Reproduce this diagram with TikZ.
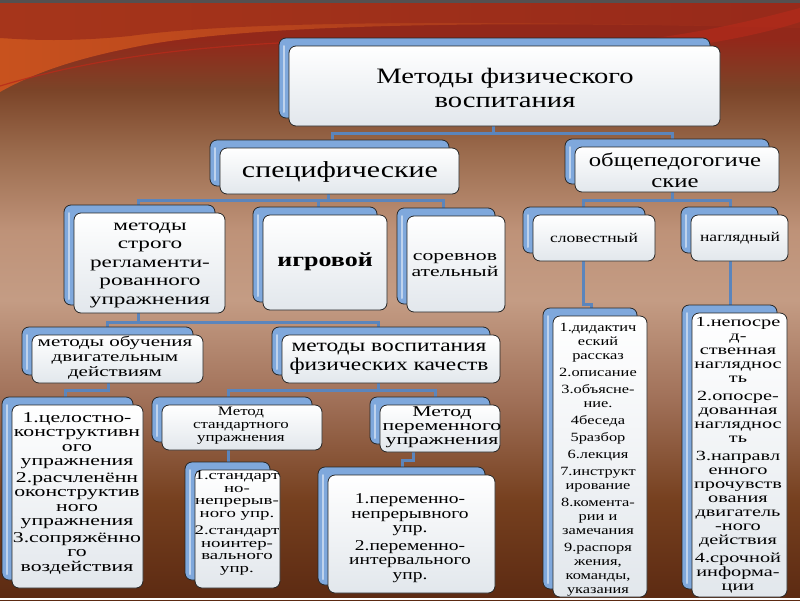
\documentclass[tikz,border=0pt]{standalone}
\usepackage{fontspec}
\setmainfont{Liberation Serif}
\newfontfamily\fs[FakeStretch=1.3]{Liberation Serif}
\newfontfamily\fw[FakeStretch=1.45]{Liberation Serif}
\usetikzlibrary{calc}
\definecolor{bgA}{HTML}{92281A}
\definecolor{bgB}{HTML}{7B4428}
\definecolor{bgC}{HTML}{9A6A4C}
\definecolor{bgD}{HTML}{BE9278}
\definecolor{bgE}{HTML}{C49C84}
\definecolor{bgF}{HTML}{A07058}
\definecolor{bgG}{HTML}{76401F}
\definecolor{bgH}{HTML}{5C2A12}
\definecolor{topred}{HTML}{982A1A}
\definecolor{toporange}{HTML}{C8521E}
\definecolor{streak}{HTML}{B82A1A}
\definecolor{connc}{HTML}{5B85BC}
\definecolor{backc}{HTML}{7FA8DC}
\definecolor{frontbot}{HTML}{E2E7EC}
\definecolor{topgray}{HTML}{555050}
\pgfdeclareverticalshading{bgshade}{100bp}{color(0bp)=(bgH); color(25bp)=(bgH); color(33.33bp)=(bgG); color(41.67bp)=(bgF); color(50bp)=(bgE); color(55.83bp)=(bgD); color(62.5bp)=(bgC); color(67.5bp)=(bgB); color(71.67bp)=(bgA); color(75bp)=(bgA); color(100bp)=(bgA)}
\pgfdeclarelayer{backdrop}
\pgfdeclarelayer{lines}
\pgfsetlayers{backdrop,lines,main}
\newcommand\mkbox[5]{%
  \draw[backbox] (#2-10,#3-8) rectangle (#4-10,#5-8);
  \draw[backhl] (#2-5,#3) -- (#2-5,#5-14);
  \node[frontbox, minimum width={(#4)-(#2)}, minimum height={(#5)-(#3)}] (#1) at ({((#2)+(#4))/2},{((#3)+(#5))/2}) {};}
\begin{document}
\begin{tikzpicture}[x=1pt,y=-1pt,
  conn/.style={line width=3pt, draw=connc},
  frontbox/.style={draw=black!85, line width=0.8pt, rounded corners=7pt, top color=white, bottom color=frontbot, inner sep=0pt, outer sep=0pt},
  backbox/.style={draw=black!85, line width=0.8pt, rounded corners=7pt, fill=backc},
  backhl/.style={line width=2pt, draw=white, opacity=0.5, line cap=round},
  txt/.style={align=center, inner sep=0pt, text=black}]
\useasboundingbox (0,0) rectangle (800,600);
\begin{pgfonlayer}{backdrop}
\shade[shading=bgshade] (0,0) rectangle (800,600);
\shade[left color=toporange, right color=topred] (0,0) -- (800,0) -- (800,28) .. controls (560,22) and (260,20) .. (130,48) .. controls (70,60) and (30,75) .. (0,92) -- cycle;
\fill[topred, opacity=0.7] (0,0) -- (800,0) -- (800,28) .. controls (560,22) and (260,18) .. (130,36) .. controls (70,42) and (30,40) .. (0,38) -- cycle;
\draw[streak, line width=1.2pt, opacity=0.8] (0,86) .. controls (100,56) and (200,46) .. (320,41);
\fill[streak, opacity=0.6] (580,46) .. controls (680,38) and (740,24) .. (800,8) -- (800,22) .. controls (750,38) and (680,50) .. (600,55) -- cycle;
\fill[topgray] (0,0) rectangle (800,2.5);
\fill[white] (0,598) rectangle (800,600);
\end{pgfonlayer}
% boxes
\mkbox{top}{289}{46}{720}{126}
\mkbox{spec}{220}{148}{459}{194}
\mkbox{obsh}{575}{147}{779}{192}
\mkbox{regl}{74}{213}{225}{313}
\mkbox{igr}{263}{215}{387}{310}
\mkbox{sorev}{407}{216}{505}{312}
\mkbox{slov}{533}{215}{655}{261}
\mkbox{nagl}{691}{215}{788}{261}
\mkbox{obuch}{32}{335}{203}{383}
\mkbox{vosp}{282}{335}{500}{383}
\mkbox{celost}{12}{405}{143}{588}
\mkbox{mstand}{162}{405}{322}{450}
\mkbox{mperem}{380}{405}{500}{452}
\mkbox{stand}{195}{470}{280}{588}
\mkbox{perem}{328}{475}{495}{593}
\mkbox{didakt}{553}{316}{647}{597}
\mkbox{neposr}{692}{313}{787}{597}
% texts
\node[txt, font={\fs\fontsize{22}{24}\selectfont}] (t-top) at (505,88) {Методы физического\\воспитания};
\node[txt, font={\fs\fontsize{23}{26}\selectfont}] (t-spec) at (340,172) {специфические};
\node[txt, font={\fs\fontsize{19}{21}\selectfont}] (t-obsh) at (675,170) {общепедогогиче\\ские};
\node[txt, font={\fw\fontsize{16}{18.5}\selectfont}] (t-regl) at (150,265) {методы\\строго\\регламенти-\\рованного\\упражнения};
\node[txt, font={\fs\bfseries\fontsize{20}{22}\selectfont}] (t-igr) at (325,262) {игровой};
\node[txt, font={\fw\fontsize{15}{15.5}\selectfont}] (t-sorev) at (455,265) {соревнов\\ательный};
\node[txt, font={\fs\fontsize{13.5}{16}\selectfont}] (t-slov) at (594,238) {словестный};
\node[txt, font={\fs\fontsize{13.5}{16}\selectfont}] (t-nagl) at (740,238) {наглядный};
\node[txt, font={\fw\fontsize{14.5}{15}\selectfont}] (t-obuch) at (115,358) {методы обучения\\двигательным\\действиям};
\node[txt, font={\fs\fontsize{18}{19}\selectfont}] (t-vosp) at (389,359) {методы воспитания\\физических качеств};
\node[txt, font={\fw\fontsize{15}{14.5}\selectfont}] (t-celost) at (77,493) {1.целостно-\\конструктивн\\ого\\упражнения\\[2pt]2.расчленённ\\оконструктив\\ного\\упражнения\\[2pt]3.сопряжённо\\го\\воздействия};
\node[txt, font={\fs\fontsize{13}{13}\selectfont}] (t-mstand) at (241,426) {Метод\\стандартного\\упражнения};
\node[txt, font={\fw\fontsize{15}{14}\selectfont}] (t-mperem) at (442,427) {Метод\\переменного\\упражнения};
\node[txt, font={\fw\fontsize{13}{12.5}\selectfont}] (t-stand) at (237,523) {1.стандарт\\но-\\непрерыв-\\ного упр.\\[5pt]2.стандарт\\ноинтер-\\вального\\упр.};
\node[txt, font={\fs\fontsize{15}{14.5}\selectfont}] (t-perem) at (410,538) {1.переменно-\\непрерывного\\упр.\\[3pt]2.переменно-\\интервального\\упр.};
\node[txt, font={\fs\fontsize{12.6}{14}\selectfont}] (t-didakt) at (598,460) {1.дидактич\\еский\\рассказ\\[3pt]2.описание\\[3pt]3.объясне-\\ние.\\[3pt]4беседа\\[3pt]5разбор\\[3pt]6.лекция\\[3pt]7.инструкт\\ирование\\[3pt]8.комента-\\рии и\\замечания\\[3pt]9.распоря\\жения,\\команды,\\указания};
\node[txt, font={\fw\fontsize{14}{14}\selectfont}] (t-neposr) at (738,455) {1.непосре\\д-\\ственная\\нагляднос\\ть\\[4pt]2.опосре-\\дованная\\нагляднос\\ть\\[4pt]3.направл\\енного\\прочувств\\ования\\двигатель\\-ного\\действия\\[4pt]4.срочной\\информа-\\ции};
% connectors
\begin{pgfonlayer}{lines}
\coordinate (a1) at (493,133); \coordinate (a2) at (332,133); \coordinate (a3) at (672,133);
\draw[conn] (top.south -| a1) -- (a1);
\draw[conn] (spec.north -| a2) -- (a2) -- (a3) -- (obsh.north -| a3);
\coordinate (b0) at (328,200); \coordinate (b1) at (138,200); \coordinate (b2) at (318,200); \coordinate (b3) at (443,200);
\draw[conn] (spec.south -| b0) -- (b0);
\draw[conn] (regl.north -| b1) -- (b1) -- (b3) -- (sorev.north -| b3);
\draw[conn] (b2) -- (igr.north -| b2);
\coordinate (c0) at (672,200); \coordinate (c1) at (583,200); \coordinate (c2) at (730,200);
\draw[conn] (obsh.south -| c0) -- (c0);
\draw[conn] (slov.north -| c1) -- (c1) -- (c2) -- (nagl.north -| c2);
\coordinate (d0) at (138,322); \coordinate (d1) at (107,322); \coordinate (d2) at (378,322);
\draw[conn] (regl.south -| d0) -- (d0);
\draw[conn] (obuch.north -| d1) -- (d1) -- (d2) -- (vosp.north -| d2);
\coordinate (e0) at (108,390); \coordinate (e1) at (65,390);
\draw[conn] (obuch.south -| e0) -- (e0) -- (e1) -- (celost.north -| e1);
\coordinate (f0) at (378,390); \coordinate (f1) at (228,390); \coordinate (f2) at (435,390);
\draw[conn] (vosp.south -| f0) -- (f0);
\draw[conn] (mstand.north -| f1) -- (f1) -- (f2) -- (mperem.north -| f2);
\coordinate (g0) at (228,460);
\draw[conn] (mstand.south -| g0) -- (stand.north -| g0);
\coordinate (h0) at (413,460); \coordinate (h1) at (402,460);
\draw[conn] (mperem.south -| h0) -- (h0) -- (h1) -- (perem.north -| h1);
\coordinate (i0) at (583,304); \coordinate (i1) at (591,304);
\draw[conn] (slov.south -| i0) -- (i0) -- (i1) -- (didakt.north -| i1);
\coordinate (k0) at (730,300);
\draw[conn] (nagl.south -| k0) -- (neposr.north -| k0);
\end{pgfonlayer}
\end{tikzpicture}
\end{document}
